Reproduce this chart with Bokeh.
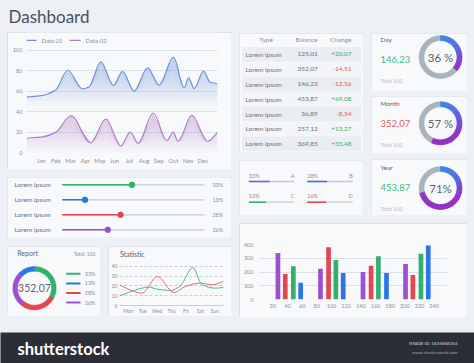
import numpy as np
from bokeh.plotting import figure
from bokeh.models import Range1d, FixedTicker, Spacer, ColumnDataSource
from bokeh.layouts import row, column
from bokeh.embed import file_html
from bokeh.resources import INLINE
from bokeh.core.properties import value

FONT = "Lato"
BG = "#edf0f5"
PANEL = "#f8f9fb"
BORDER = "#d3d8e1"
TXT = "#5d636e"
ROWTXT = "#6b717c"
MUTED = "#8a909b"
LIGHT = "#b3b9c3"
GRID = "#dde1e8"
GREEN = "#33b06c"
BLUE = "#2f74e6"
RED = "#e2474e"
PURPLE = "#9d4fd3"
LINE1 = "#7091d9"
LINE2 = "#b27dca"
RING_BLUE = (59, 128, 232)
RING_PURPLE = (143, 44, 196)
RING_GRAY = "#a8b4bf"

# ---------------- data ----------------
MONTHS = ["Jan", "Feb", "Mar", "Apr", "May", "Jun", "Jul", "Aug", "Sep", "Oct", "Nov", "Dec"]
MONTH_POS = [1, 2, 3, 4, 5, 6, 7, 8, 9, 10, 11, 12]
LINE_Y_TICKS = [0, 20, 40, 60, 80, 100]
SERIES_NAMES = ["Data 01", "Data 02"]
DATA01_X = [0.03, 1.0, 2.0, 2.8, 3.8, 4.27, 5.06, 5.92, 6.53, 7.33, 8.24, 9.03, 10.0, 10.73, 11.03, 11.41, 12.05, 12.5, 13.0]
DATA01_Y = [54.5, 55.7, 61.6, 80.6, 62.3, 64.5, 88.9, 65.6, 79.6, 60.0, 83.0, 65.9, 93.4, 63.3, 73.2, 62.6, 79.7, 68.8, 67.5]
DATA02_X = [0.03, 1.0, 2.0, 3.02, 4.38, 5.4, 6.42, 7.06, 7.6, 8.62, 9.55, 9.98, 10.32, 11.25, 12.32, 13.0]
DATA02_Y = [14.2, 15.1, 20.0, 35.8, 9.5, 32.8, 6.3, 20.0, 8.9, 38.7, 11.5, 20.0, 10.8, 36.4, 10.8, 19.7]

TABLE_HEADERS = ["Type", "Balance", "Change"]
TABLE_TYPES = ["Lorem ipsum"] * 7
TABLE_BALANCE = ["125,01", "352,07", "146,23", "453,87", "36,89", "257,12", "369,85"]
TABLE_CHANGE = ["+20,07", "-14,51", "-12,56", "+69,08", "-8,54", "+13,27", "+35,48"]

CARD_TITLES = ["Day", "Month", "Year"]
CARD_VALUES = ["146,23", "352,07", "453,87"]
CARD_VALUE_COLORS = ["#3dbb7a", "#e0605e", "#3dbb7a"]
CARD_PCT = [36, 57, 71]
CARD_PCT_LABELS = ["36 %", "57 %", "71%"]
CARD_TOTAL = "Total: 100"

SLIDER_LABELS = ["Lorem ipsum"] * 4
SLIDER_PCT_LABELS = ["33%", "13%", "28%", "26%"]
SLIDER_POS = [49, 16, 41, 32]
SLIDER_COLORS = [GREEN, BLUE, RED, PURPLE]

ABCD_LETTERS = ["A", "B", "C", "D"]
ABCD_PCT_LABELS = ["33%", "28%", "13%", "26%"]
ABCD_FILL = [46, 44, 38, 42]
ABCD_COLORS = [PURPLE, BLUE, GREEN, RED]

REPORT_VALUES = [33, 13, 28, 26]
REPORT_LABELS = ["33%", "13%", "28%", "26%"]
REPORT_COLORS = [GREEN, BLUE, RED, PURPLE]
REPORT_RING_ORDER = [0, 2, 3, 1]
REPORT_CENTER = "352,07"
REPORT_TOTAL = "Total: 100"

DAYS = ["Mon", "Tue", "Wed", "Thu", "Fri", "Sat", "Sun"]
DAY_POS = [0, 1, 2, 3, 4, 5, 6]
STAT_Y_TICKS = [0, 10, 20, 30, 40]
STAT_GREEN_X = [-0.62, 0.0, 0.94, 1.45, 1.98, 2.94, 3.63, 4.48, 5.13, 6.05, 6.62]
STAT_GREEN_Y = [9.9, 13.3, 17.8, 18.9, 16.8, 15.4, 20.5, 39.0, 21.2, 17.8, 18.5]
STAT_RED_X = [-0.62, 0.0, 0.94, 2.02, 3.17, 3.98, 5.01, 5.82, 6.62]
STAT_RED_Y = [21.2, 16.8, 12.7, 29.7, 13.3, 19.5, 23.0, 21.2, 24.6]

BAR_X_TICKS = [20, 40, 60, 80, 100, 120, 140, 160, 180, 200, 220, 240]
BAR_Y_TICKS = [0, 100, 200, 300, 400]
BAR_PURPLE_X = [27, 85, 143, 201]
BAR_PURPLE = [339, 224, 200, 259]
BAR_RED_X = [37, 96, 154, 211]
BAR_RED = [185, 380, 246, 178]
BAR_GREEN_X = [48, 106, 164, 222]
BAR_GREEN = [241, 288, 315, 332]
BAR_BLUE_X = [58, 116, 175, 232]
BAR_BLUE = [122, 193, 193, 393]


# ---------------- helpers ----------------
def make_fig(w, h, xr, yr, l=0, r=0, t=0, b=0, axes=False, outline=True, fill=PANEL):
    kw = {} if axes else dict(x_axis_type=None, y_axis_type=None)
    p = figure(width=w, height=h, x_range=xr, y_range=yr, output_backend="svg",
               toolbar_location=None, title=None, min_border_left=l, min_border_right=r,
               min_border_top=t, min_border_bottom=b, **kw)
    p.frame_align = False
    p.background_fill_color = fill
    p.border_fill_color = fill
    p.outline_line_color = None
    if outline:
        p.styles = {"outline": f"1px solid {BORDER}", "outline-offset": "-1px"}
    return p


def style_axes(p, size):
    for ax in p.axis:
        ax.axis_line_color = None
        ax.major_tick_line_color = None
        ax.minor_tick_line_color = None
        ax.major_tick_out = 0
        ax.major_tick_in = 0
        ax.minor_tick_out = 0
        ax.minor_tick_in = 0
        ax.major_label_text_font = FONT
        ax.major_label_text_font_size = size
        ax.major_label_text_color = MUTED


def monotone_bezier(xs, ys):
    xs = np.asarray(xs, float)
    ys = np.asarray(ys, float)
    h = np.diff(xs)
    d = np.diff(ys) / h
    n = len(xs)
    m = np.zeros(n)
    m[0] = d[0]
    m[-1] = d[-1]
    for k in range(1, n - 1):
        if d[k - 1] * d[k] <= 0:
            m[k] = 0.0
        else:
            w1 = 2 * h[k] + h[k - 1]
            w2 = h[k] + 2 * h[k - 1]
            m[k] = (w1 + w2) / (w1 / d[k - 1] + w2 / d[k])
    return ColumnDataSource(dict(
        x0=xs[:-1], y0=ys[:-1], x1=xs[1:], y1=ys[1:],
        cx0=xs[:-1] + h / 3, cy0=ys[:-1] + m[:-1] * h / 3,
        cx1=xs[1:] - h / 3, cy1=ys[1:] - m[1:] * h / 3))


def smooth_line(p, xs, ys, color, width=1.2):
    return p.bezier(x0="x0", y0="y0", x1="x1", y1="y1", cx0="cx0", cy0="cy0",
                    cx1="cx1", cy1="cy1", source=monotone_bezier(xs, ys),
                    line_color=color, line_width=width)


def gradient_area(p, xs, ys, color, lo, hi, n, alpha):
    ys = np.asarray(ys, float)
    for k in range(n):
        base = lo + (hi - lo) * k / n
        p.varea(x=xs, y1=np.minimum(base, ys), y2=ys, fill_color=color, fill_alpha=alpha)


def lerp_color(c0, c1, t):
    return "#%02x%02x%02x" % tuple(int(round(a + (b - a) * t)) for a, b in zip(c0, c1))


def txt(p, x, y, text, size, color, align="left", baseline="middle", style="normal"):
    p.text(x=x, y=y, text=text, text_font=value(FONT), text_font_size=value(size),
           text_color=color, text_align=align, text_baseline=baseline,
           text_font_style=style)


# ---------------- title ----------------
title_fig = make_fig(224, 32, Range1d(0, 224), Range1d(0, 32), outline=False, fill=BG)
txt(title_fig, [1], [16.5], ["Dashboard"], "17px", "#4b515d")

# ---------------- line chart ----------------
lc = make_fig(224, 137, Range1d(0, 13), Range1d(0, 117.6), l=19, r=14, t=0, b=17, axes=True)
style_axes(lc, "5.5px")
lc.xaxis.major_label_text_font_size = "6px"
lc.xaxis.ticker = FixedTicker(ticks=MONTH_POS)
lc.xaxis.major_label_overrides = {m: lbl for m, lbl in zip(MONTH_POS, MONTHS)}
lc.yaxis.ticker = FixedTicker(ticks=LINE_Y_TICKS)
lc.xaxis.major_label_standoff = 4
lc.yaxis.major_label_standoff = 4
lc.xgrid.grid_line_color = None
lc.ygrid.ticker = FixedTicker(ticks=LINE_Y_TICKS)
lc.ygrid.grid_line_color = GRID
gradient_area(lc, DATA01_X, DATA01_Y, "#7a9ee2", 46, 90, 10, 0.055)
gradient_area(lc, DATA02_X, DATA02_Y, "#bb86d3", 0, 34, 10, 0.045)
smooth_line(lc, DATA01_X, DATA01_Y, LINE1)
smooth_line(lc, DATA02_X, DATA02_Y, LINE2)
# legend (drawn as marks inside the plot frame)
lc.segment(x0=[0.0, 2.93], x1=[0.68, 3.68], y0=[109.8, 109.8], y1=[109.8, 109.8],
           line_color=[LINE1, LINE2], line_width=1.2)
txt(lc, [1.02, 4.02], [109.8, 109.8], SERIES_NAMES, "6px", MUTED)

# ---------------- sliders ----------------
sl = make_fig(224, 60, Range1d(-38.43, 118.95), Range1d(3.513, -0.487))
rows_s = list(range(len(SLIDER_LABELS)))
sl.segment(x0=0, x1=100, y0=rows_s, y1=rows_s, line_color="#c6ccd5", line_width=1.3)
sl.segment(x0=[0] * 4, x1=SLIDER_POS, y0=rows_s, y1=rows_s, line_color=SLIDER_COLORS, line_width=1.5)
sl.scatter(x=SLIDER_POS, y=rows_s, size=5.5, fill_color=SLIDER_COLORS, line_color=SLIDER_COLORS)
txt(sl, [-33.5] * 4, rows_s, SLIDER_LABELS, "6.5px", ROWTXT)
txt(sl, [113.1] * 4, rows_s, SLIDER_PCT_LABELS, "5.5px", MUTED, align="right")

# ---------------- report ----------------
rep = make_fig(93, 70, Range1d(0, 93), Range1d(0, 70))
fr = np.cumsum([0] + [REPORT_VALUES[i] for i in REPORT_RING_ORDER]) / 100.0
rep.annular_wedge(x=27, y=28.3, inner_radius=17, outer_radius=21.7,
                  inner_radius_units="screen", outer_radius_units="screen",
                  start_angle=np.pi / 2 - 2 * np.pi * fr[:-1], end_angle=np.pi / 2 - 2 * np.pi * fr[1:],
                  direction="clock",
                  fill_color=[REPORT_COLORS[i] for i in REPORT_RING_ORDER],
                  line_color=[REPORT_COLORS[i] for i in REPORT_RING_ORDER], line_width=0.5)
txt(rep, [27], [28.3], [REPORT_CENTER], "10.5px", TXT, align="center")
txt(rep, [9.7], [63.3], ["Report"], "7px", TXT)
txt(rep, [88], [62.7], [REPORT_TOTAL], "5px", MUTED, align="right")
ly = [42.7 - 9.6 * i for i in range(len(REPORT_VALUES))]
rep.segment(x0=58.7, x1=73, y0=ly, y1=ly, line_color=REPORT_COLORS, line_width=2)
txt(rep, [88] * 4, ly, REPORT_LABELS, "5.5px", MUTED, align="right")

# ---------------- statistic ----------------
st = make_fig(123, 70, Range1d(-0.62, 6.62), Range1d(0, 60.5), l=10, r=8, t=0, b=11, axes=True)
style_axes(st, "5px")
st.xaxis.ticker = FixedTicker(ticks=DAY_POS)
st.xaxis.major_label_overrides = {d: lbl for d, lbl in zip(DAY_POS, DAYS)}
st.yaxis.ticker = FixedTicker(ticks=STAT_Y_TICKS)
st.xaxis.axis_line_color = "#c9ced6"
st.xaxis.major_label_standoff = 2
st.yaxis.major_label_standoff = 2
st.xgrid.grid_line_color = None
st.ygrid.ticker = FixedTicker(ticks=STAT_Y_TICKS[1:])
st.ygrid.grid_line_color = "#c9ced6"
st.ygrid.grid_line_dash = "3 2"
smooth_line(st, STAT_GREEN_X, STAT_GREEN_Y, "#4cb88c", 1.0)
smooth_line(st, STAT_RED_X, STAT_RED_Y, "#e06b79", 1.0)
txt(st, [-0.58], [53], ["Statistic"], "7px", TXT)

# ---------------- table ----------------
tb = make_fig(124, 119, Range1d(0, 124), Range1d(7.58, -0.4))
trows = list(range(1, len(TABLE_BALANCE) + 1))
tb.hbar(y=trows, left=2.5, right=121.5, height=1,
        fill_color=["#eaedf2" if r % 2 else "#f4f5f8" for r in trows], line_color=None)
txt(tb, [26.5], [0], [TABLE_HEADERS[0]], "6.5px", MUTED, align="center")
txt(tb, [78.3, 112], [0, 0], TABLE_HEADERS[1:], "6.5px", MUTED, align="right")
txt(tb, [6] * 7, trows, TABLE_TYPES, "6.5px", ROWTXT)
txt(tb, [78.3] * 7, trows, TABLE_BALANCE, "6.5px", ROWTXT, align="right")
txt(tb, [112] * 7, trows, TABLE_CHANGE, "6.5px",
    ["#33b070" if c.startswith("+") else "#e05a5a" for c in TABLE_CHANGE], align="right")

# ---------------- A/B/C/D ----------------
ab = make_fig(124, 55, Range1d(0, 124), Range1d(55, 0))
ax0 = [9.3, 67.7, 9.3, 67.7]
ty = [15, 15, 35.7, 35.7]
uy = [21, 21, 41.7, 41.7]
ab.segment(x0=ax0, x1=[a + 45.6 for a in ax0], y0=uy, y1=uy, line_color="#c6ccd5", line_width=1.3)
ab.segment(x0=ax0, x1=[a + 45.6 * f / 100 for a, f in zip(ax0, ABCD_FILL)], y0=uy, y1=uy,
           line_color=ABCD_COLORS, line_width=1.6)
txt(ab, ax0, ty, ABCD_PCT_LABELS, "5.5px", MUTED)
txt(ab, [a + 45.6 for a in ax0], ty, ABCD_LETTERS, "5.5px", MUTED, align="right")

# ---------------- cards ----------------
CARD_H = [58, 57, 56]
CARD_RING_Y = [23.6, 26.8, 28.5]
CARD_TXT_Y = [(6, 26.3, 47.3), (6.7, 26.7, 48), (7.7, 28.3, 49.3)]
cards = []
for i in range(3):
    H = CARD_H[i]
    c = make_fig(96, H, Range1d(0, 96), Range1d(0, H))
    cy = H - CARD_RING_Y[i]
    pct = CARD_PCT[i]
    fr = np.linspace(0, pct / 100.0, pct + 1) * 2 * np.pi
    mid = (fr[:-1] + fr[1:]) / 2
    tpos = np.clip((1 - np.cos(mid)) / 2 * 1.35, 0, 1)
    cols = [lerp_color(RING_BLUE, RING_PURPLE, t) for t in tpos]
    c.annular_wedge(x=69, y=cy, inner_radius=16.5, outer_radius=21.5,
                    inner_radius_units="screen", outer_radius_units="screen",
                    start_angle=[np.pi / 2 - 2 * np.pi * pct / 100.0],
                    end_angle=[np.pi / 2 - 2 * np.pi], direction="clock",
                    fill_color=RING_GRAY, line_color=RING_GRAY, line_width=0.5)
    c.annular_wedge(x=69, y=cy, inner_radius=16.5, outer_radius=21.5,
                    inner_radius_units="screen", outer_radius_units="screen",
                    start_angle=np.pi / 2 - fr[:-1], end_angle=np.pi / 2 - fr[1:],
                    direction="clock", fill_color=cols, line_color=cols, line_width=0.6)
    txt(c, [69], [cy], [CARD_PCT_LABELS[i]], "11.5px", TXT, align="center")
    y0, y1, y2 = CARD_TXT_Y[i]
    txt(c, [9], [H - y0], [CARD_TITLES[i]], "6.5px", TXT)
    txt(c, [9], [H - y1], [CARD_VALUES[i]], "9.5px", CARD_VALUE_COLORS[i])
    txt(c, [9], [H - y2], [CARD_TOTAL], "5px", LIGHT)
    cards.append(c)

# ---------------- bar chart ----------------
bc = make_fig(228, 94, Range1d(0.5, 258.2), Range1d(0, 400), l=19, r=20, t=21, b=18, axes=True)
style_axes(bc, "5.5px")
bc.xaxis.ticker = FixedTicker(ticks=BAR_X_TICKS)
bc.yaxis.ticker = FixedTicker(ticks=BAR_Y_TICKS)
bc.xaxis.major_label_standoff = 4
bc.yaxis.major_label_standoff = 5
bc.xgrid.grid_line_color = None
bc.ygrid.ticker = FixedTicker(ticks=BAR_Y_TICKS)
bc.ygrid.grid_line_color = GRID
for xs, hs, col in [(BAR_PURPLE_X, BAR_PURPLE, PURPLE), (BAR_RED_X, BAR_RED, RED),
                    (BAR_GREEN_X, BAR_GREEN, GREEN), (BAR_BLUE_X, BAR_BLUE, BLUE)]:
    bc.vbar(x=xs, top=hs, bottom=0, width=6.4, fill_color=col, line_color=None)

# ---------------- banner ----------------
bn = make_fig(474, 31, Range1d(0, 474), Range1d(0, 31), outline=False, fill="#2b2e37")
txt(bn, [17], [15], ["shutterstock"], "16.5px", "#ffffff", style="bold")
txt(bn, [457], [19.7], ["IMAGE ID: 1635868354"], "4.5px", "#d0d3d9", align="right")
txt(bn, [457], [11.3], ["www.shutterstock.com"], "4.5px", "#9ea3ad", align="right")

# ---------------- layout ----------------
left_col = column(title_fig, lc, Spacer(width=224, height=8), sl, Spacer(width=224, height=9),
                  row(rep, Spacer(width=8, height=70), st))
mid_col = column(Spacer(width=124, height=33), tb, Spacer(width=124, height=8), ab)
right_col = column(Spacer(width=96, height=33), cards[0], Spacer(width=96, height=5), cards[1],
                   Spacer(width=96, height=6), cards[2])
right_part = column(row(mid_col, Spacer(width=8, height=215), right_col),
                    Spacer(width=228, height=8), bc)
top = row(Spacer(width=7, height=317), left_col, Spacer(width=8, height=317), right_part,
          Spacer(width=7, height=317))
page = column(top, Spacer(width=474, height=15), bn, styles={"background-color": BG})

open("out.html", "w").write(file_html(page, INLINE))
